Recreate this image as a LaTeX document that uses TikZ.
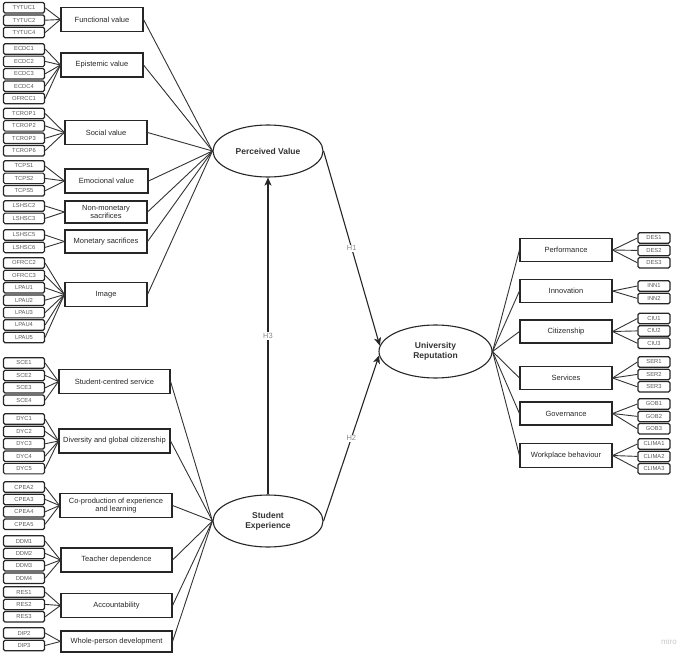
\documentclass[tikz,border=0pt]{standalone}
\usepackage{fontspec}
\setmainfont{Liberation Sans}
\usetikzlibrary{shapes,arrows.meta}
\tikzstyle{item} = [draw=black!85, line width=1.2pt, rounded corners=1.5pt, minimum width=41pt, minimum height=10.5pt, inner sep=0pt, font=\fontsize{5.8}{6}\selectfont, text=black!65]
\tikzstyle{factor} = [draw=black!85, line width=1.1pt, minimum height=24pt, inner sep=1pt, font=\fontsize{7.5}{8.6}\selectfont, text=black!85, align=center]
\tikzstyle{latent} = [draw=black!85, line width=1.1pt, ellipse, inner sep=0pt, font=\bfseries\fontsize{8.5}{10}\selectfont, text=black!80, align=center]
\tikzstyle{link} = [draw=black!80, line width=0.9pt]
\tikzstyle{hyp} = [draw=black!85, line width=1.1pt, ->]
\tikzstyle{hlabel} = [fill=white, inner sep=1pt, font=\fontsize{7.5}{8}\selectfont, text=black!45]
% indicators left of a factor: first y, factor, names
\newcommand{\leftitems}[3]{%
  \foreach \n [count=\i from 0] in {#3} {
    \node[item] (\n) at (24,#1+12.4*\i) {\n};
    \path[link] (\n.east) -- (#2.west);
  }}
% indicators right of a factor
\newcommand{\rightitems}[3]{%
  \foreach \n [count=\i from 0] in {#3} {
    \node[item,minimum width=32pt] (\n) at (654,#1+12.4*\i) {\n};
    \path[link] (#2.east) -- (\n.west);
  }}
\begin{document}
\begin{tikzpicture}[x=1pt,y=-1pt,>={Stealth[length=8pt,width=7pt,inset=2pt]}]
  \useasboundingbox (0,0) rectangle (685,655);
  \node[latent,minimum width=110pt,minimum height=52pt] (pv) at (268,151) {Perceived Value};
  \node[latent,minimum width=110pt,minimum height=52pt] (se) at (268,521) {Student\\Experience};
  \node[latent,minimum width=113pt,minimum height=53pt] (ur) at (435.5,351.5) {University\\Reputation};

  \node[factor,minimum width=82pt] (fv) at (102,19.5) {Functional value};
  \node[factor,minimum width=82pt] (ev) at (102,65) {Epistemic value};
  \node[factor,minimum width=82pt] (sv) at (106,132.5) {Social value};
  \node[factor,minimum width=83pt] (emv) at (106.5,181) {Emocional value};
  \node[factor,minimum width=82pt,minimum height=22pt] (nms) at (106,212) {Non-monetary\\sacrifices};
  \node[factor,minimum width=82pt,minimum height=23pt] (ms) at (106,241.5) {Monetary sacrifices};
  \node[factor,minimum width=82pt] (img) at (106,294.5) {Image};

  \node[factor,minimum width=111pt] (scs) at (114.5,381.5) {Student-centred service};
  \node[factor,minimum width=111pt] (dgc) at (114.5,441) {Diversity and global citizenship};
  \node[factor,minimum width=112pt] (cpe) at (116,505.5) {Co-production of experience\\and learning};
  \node[factor,minimum width=111pt] (td) at (116.5,560) {Teacher dependence};
  \node[factor,minimum width=111pt] (acc) at (116.5,605.5) {Accountability};
  \node[factor,minimum width=111pt,minimum height=21pt] (wpd) at (116.5,641.5) {Whole-person development};

  \node[factor,minimum width=92pt,minimum height=23pt] (perf) at (566,250) {Performance};
  \node[factor,minimum width=92pt,minimum height=23pt] (inn) at (566,291) {Innovation};
  \node[factor,minimum width=92pt,minimum height=23pt] (cit) at (566,331.5) {Citizenship};
  \node[factor,minimum width=92pt,minimum height=23pt] (serv) at (566,378) {Services};
  \node[factor,minimum width=92pt,minimum height=23pt] (gov) at (566,413.5) {Governance};
  \node[factor,minimum width=92pt,minimum height=24pt] (wb) at (566,455.5) {Workplace behaviour};

  \leftitems{7.8}{fv}{TYTUC1,TYTUC2,TYTUC4}
  \leftitems{49}{ev}{ECDC1,ECDC2,ECDC3,ECDC4,OFRCC1}
  \leftitems{113.5}{sv}{TCROP1,TCROP2,TCROP3,TCROP6}
  \leftitems{166}{emv}{TCPS1,TCPS2,TCPS5}
  \leftitems{206}{nms}{LSHSC2,LSHSC3}
  \leftitems{235}{ms}{LSHSC5,LSHSC6}
  \leftitems{263}{img}{OFRCC2,OFRCC3,LPAU1,LPAU2,LPAU3,LPAU4,LPAU5}
  \leftitems{363}{scs}{SCE1,SCE2,SCE3,SCE4}
  \leftitems{419}{dgc}{DYC1,DYC2,DYC3,DYC4,DYC5}
  \leftitems{487}{cpe}{CPEA2,CPEA3,CPEA4,CPEA5}
  \leftitems{541}{td}{DDM1,DDM2,DDM3,DDM4}
  \leftitems{592}{acc}{RES1,RES2,RES3}
  \leftitems{633}{wpd}{DIP2,DIP3}

  \rightitems{238}{perf}{DES1,DES2,DES3}
  \rightitems{286}{inn}{INN1,INN2}
  \rightitems{318.5}{cit}{CIU1,CIU2,CIU3}
  \rightitems{362}{serv}{SER1,SER2,SER3}
  \rightitems{404}{gov}{GOB1,GOB2,GOB3}
  \rightitems{444}{wb}{CLIMA1,CLIMA2,CLIMA3}

  \foreach \f in {fv,ev,sv,emv,nms,ms,img}
    \path[link] (\f.east) -- (pv.west);
  \foreach \f in {scs,dgc,cpe,td,acc,wpd}
    \path[link] (\f.east) -- (se.west);
  \foreach \f in {perf,inn,cit,serv,gov,wb}
    \path[link] (ur.east) -- (\f.west);

  \path[hyp] (se.north) -- node[hlabel] {H3} (pv.south);
  \path[hyp] (pv.east) -- node[hlabel] {H1} (ur.174);
  \path[hyp] (se.east) -- node[hlabel] {H2} (ur.184);

  \node[text=black!22,font=\fontsize{8}{9}\selectfont] (miro) at (669,642) {miro};
\end{tikzpicture}
\end{document}
